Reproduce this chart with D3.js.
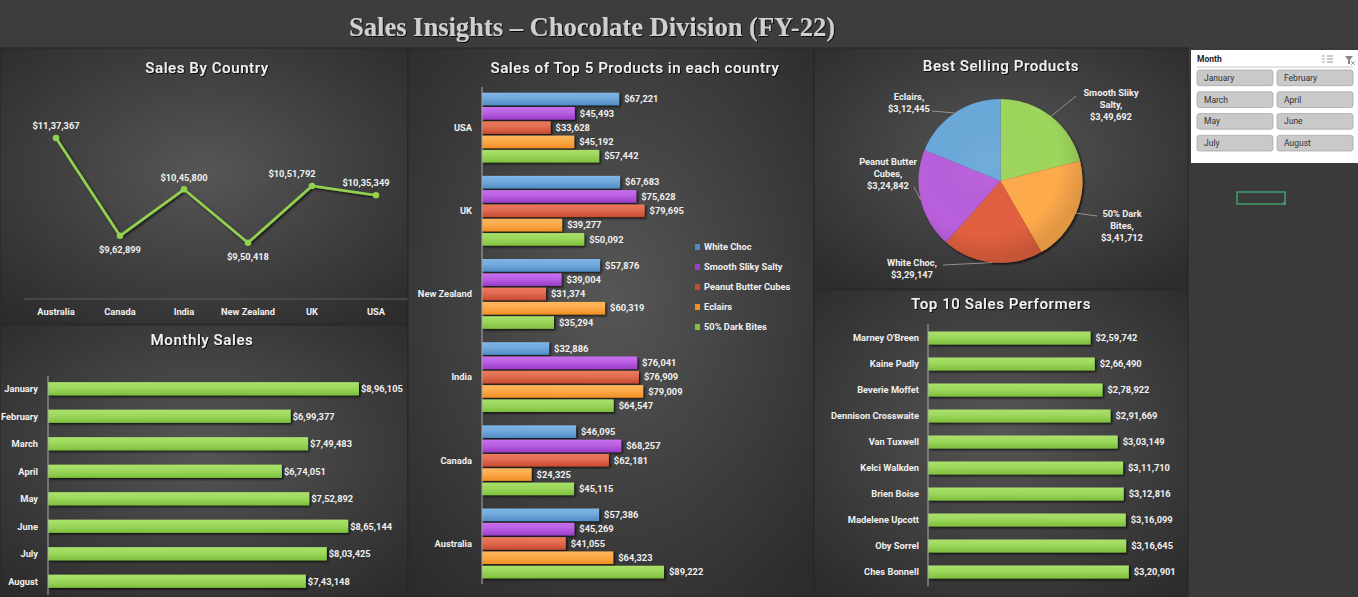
<!DOCTYPE html>
<html>
<head>
<meta charset="utf-8">
<script src="https://cdn.jsdelivr.net/npm/d3@7"></script>
<style>
  body { margin:0; background:#3d3d3d; }
  svg { display:block; }
  text { font-family: Roboto, "Open Sans", sans-serif; }
</style>
</head>
<body>
<div id="dash"></div>
<script>

// ---------------- data ----------------
var countries     = ["Australia","Canada","India","New Zealand","UK","USA"];
var countrySales  = [1137367, 962899, 1045800, 950418, 1051792, 1035349];

var months        = ["January","February","March","April","May","June","July","August"];
var monthSales    = [896105, 699377, 749483, 674051, 752892, 865144, 803425, 743148];

var top5Countries = ["USA","UK","New Zealand","India","Canada","Australia"];
var products      = ["White Choc","Smooth Sliky Salty","Peanut Butter Cubes","Eclairs","50% Dark Bites"];
var whiteChoc     = [67221, 67683, 57876, 32886, 46095, 57386];
var smoothSalty   = [45493, 75628, 39004, 76041, 68257, 45269];
var peanutCubes   = [33628, 79695, 31374, 76909, 62181, 41055];
var eclairs       = [45192, 39277, 60319, 79009, 24325, 64323];
var darkBites     = [57442, 50092, 35294, 64547, 45115, 89222];

var pieProducts   = ["Smooth Sliky Salty","50% Dark Bites","White Choc","Peanut Butter Cubes","Eclairs"];
var pieSales      = [349692, 341712, 329147, 324842, 312445];

var performers    = ["Marney O'Breen","Kaine Padly","Beverie Moffet","Dennison Crosswaite","Van Tuxwell",
                     "Kelci Walkden","Brien Boise","Madelene Upcott","Oby Sorrel","Ches Bonnell"];
var performerSales= [259742, 266490, 278922, 291669, 303149, 311710, 312816, 316099, 316645, 320901];

var slicerMonths  = ["January","February","March","April","May","June","July","August"];
// --------------------------------------


// Indian style grouping: $11,37,367
function inr(v){
  var s = String(Math.round(v));
  if (s.length <= 3) return "$" + s;
  var last = s.slice(-3), rest = s.slice(0,-3);
  rest = rest.replace(/\B(?=(\d{2})+(?!\d))/g, ",");
  return "$" + rest + "," + last;
}
function usd(v){ return "$" + d3.format(",")(v); }

var W = 1358, H = 597;
var svg = d3.select("#dash").append("svg")
  .attr("width", W).attr("height", H);

var defs = svg.append("defs");

// panel background gradient
var pg = defs.append("radialGradient").attr("id","panelBg")
  .attr("cx","50%").attr("cy","45%").attr("r","70%");
pg.append("stop").attr("offset","0%").attr("stop-color","#565656");
pg.append("stop").attr("offset","100%").attr("stop-color","#2c2c2c");

var shadow = defs.append("filter").attr("id","shadow")
  .attr("x","-10%").attr("y","-30%").attr("width","130%").attr("height","180%");
shadow.append("feDropShadow").attr("dx",1.5).attr("dy",1.5)
  .attr("stdDeviation",1).attr("flood-color","#000").attr("flood-opacity",0.75);

var txtShadow = defs.append("filter").attr("id","tshadow");
txtShadow.append("feDropShadow").attr("dx",1).attr("dy",1)
  .attr("stdDeviation",0.6).attr("flood-color","#000").attr("flood-opacity",0.8);

// bar gradients (light top, darker bottom)
function barGrad(id, top, bottom){
  var g = defs.append("linearGradient").attr("id",id)
    .attr("x1",0).attr("y1",0).attr("x2",0).attr("y2",1);
  g.append("stop").attr("offset","0%").attr("stop-color",top);
  g.append("stop").attr("offset","45%").attr("stop-color",d3.interpolateRgb(top,bottom)(0.3));
  g.append("stop").attr("offset","100%").attr("stop-color",bottom);
}
var barColors = {
  "White Choc":          ["#7fb6e6","#4f8cc6"],
  "Smooth Sliky Salty":  ["#c770ee","#9c3cc8"],
  "Peanut Butter Cubes": ["#ec7a5f","#c84a30"],
  "Eclairs":             ["#ffb65c","#f08f22"],
  "50% Dark Bites":      ["#a9e06a","#7ec03c"]
};
products.forEach(function(p,i){ barGrad("bar"+i, barColors[p][0], barColors[p][1]); });
barGrad("barGreen","#abe26c","#7dbf3b");

// ---------- page frame ----------
svg.append("rect").attr("width",W).attr("height",H).attr("fill","#3d3d3d");
svg.append("rect").attr("x",1188).attr("y",48).attr("width",170).attr("height",549).attr("fill","#3a3a3a");

svg.append("text")
  .attr("x",592).attr("y",36)
  .attr("text-anchor","middle")
  .attr("textLength",486).attr("lengthAdjust","spacingAndGlyphs")
  .style("font-family","'Liberation Serif', 'DejaVu Serif', serif")
  .style("font-weight","bold").style("font-size","28px")
  .attr("fill","#cfcfcf").attr("filter","url(#tshadow)")
  .text("Sales Insights \u2013 Chocolate Division (FY-22)");

var panels = [
  {x:0,   y:48,  w:408, h:276},
  {x:0,   y:325, w:408, h:272},
  {x:408, y:48,  w:406, h:549},
  {x:814, y:48,  w:374, h:241},
  {x:814, y:290, w:374, h:307}
];
svg.selectAll("rect.panel").data(panels).enter().append("rect")
  .attr("class","panel")
  .attr("x",function(d){return d.x;}).attr("y",function(d){return d.y;})
  .attr("width",function(d){return d.w;}).attr("height",function(d){return d.h;})
  .attr("fill","url(#panelBg)")
  .attr("stroke","#262626").attr("stroke-width",1);

function panelTitle(x, y, t){
  svg.append("text").attr("x",x).attr("y",y).attr("text-anchor","middle")
    .style("font-size","15px").style("font-weight","500").style("letter-spacing","0.6px")
    .attr("fill","#f2f2f2").attr("filter","url(#tshadow)")
    .text(t);
}
function label(g, x, y, t, anchor){
  return g.append("text").attr("x",x).attr("y",y)
    .attr("text-anchor",anchor||"start")
    .attr("dy","0.35em")
    .style("font-size","9.3px").style("font-weight","bold")
    .attr("fill","#f0f0f0")
    .text(t);
}

// ---------- Sales By Country (line) ----------
panelTitle(207, 73, "Sales By Country");
var g1 = svg.append("g");
var xC = d3.scalePoint().domain(countries).range([56,376]);
var yC = d3.scaleLinear().domain([850000,1150000]).range([299,131]);

g1.append("line").attr("x1",24).attr("x2",408).attr("y1",299).attr("y2",299)
  .attr("stroke","#5c5c5c").attr("stroke-width",1);

var lineGen = d3.line()
  .x(function(d,i){return xC(countries[i]);})
  .y(function(d){return yC(d);});
g1.append("path").datum(countrySales).attr("d",lineGen)
  .attr("fill","none").attr("stroke","#92d050").attr("stroke-width",2.6)
  .attr("filter","url(#shadow)");
g1.selectAll("circle").data(countrySales).enter().append("circle")
  .attr("cx",function(d,i){return xC(countries[i]);})
  .attr("cy",function(d){return yC(d);})
  .attr("r",3.3).attr("fill","#92d050");

var linePlace = ["above","below","above","below","aboveLeft","aboveRight"];
countrySales.forEach(function(v,i){
  var x = xC(countries[i]), y = yC(v), p = linePlace[i];
  var dx = p=="aboveLeft" ? -20 : p=="aboveRight" ? -10 : 0;
  var dy = p=="below" ? 14 : -12;
  label(g1, x+dx, y+dy, inr(v), "middle");
});
countries.forEach(function(c){
  label(g1, xC(c), 312, c, "middle");
});

// ---------- Monthly Sales ----------
panelTitle(202, 345, "Monthly Sales");
var g2 = svg.append("g");
var yM = d3.scaleBand().domain(months).range([375,595]).paddingInner(0.52).paddingOuter(0.26);
var xM = d3.scaleLinear().domain([0,1000000]).range([48,395]);

g2.selectAll("rect").data(monthSales).enter().append("rect")
  .attr("x",xM(0))
  .attr("y",function(d,i){return yM(months[i]);})
  .attr("width",function(d){return xM(d)-xM(0);})
  .attr("height",yM.bandwidth())
  .attr("fill","url(#barGreen)").attr("filter","url(#shadow)");
g2.append("line").attr("x1",48).attr("x2",48).attr("y1",376).attr("y2",595)
  .attr("stroke","#aaaaaa");
monthSales.forEach(function(v,i){
  var cy = yM(months[i]) + yM.bandwidth()/2;
  label(g2, xM(v)+2, cy, inr(v));
  label(g2, 38, cy, months[i], "end");
});

// ---------- Top 5 products per country ----------
panelTitle(635, 73, "Sales of Top 5 Products in each country");
var g3 = svg.append("g");
var series = [whiteChoc, smoothSalty, peanutCubes, eclairs, darkBites];
var yG = d3.scaleBand().domain(top5Countries).range([86,585]).paddingInner(0.14).paddingOuter(0.07);
var yP = d3.scaleBand().domain(products).range([0,yG.bandwidth()]).paddingInner(0.12).paddingOuter(0.06);
var xP = d3.scaleLinear().domain([0,100000]).range([482,686]);

top5Countries.forEach(function(c,ci){
  var grp = g3.append("g").attr("transform","translate(0,"+yG(c)+")");
  products.forEach(function(p,pi){
    var v = series[pi][ci];
    grp.append("rect")
      .attr("x",xP(0)).attr("y",yP(p))
      .attr("width",xP(v)-xP(0)).attr("height",yP.bandwidth())
      .attr("fill","url(#bar"+pi+")").attr("filter","url(#shadow)");
    label(grp, xP(v)+5, yP(p)+yP.bandwidth()/2, usd(v));
  });
  label(g3, 472, yG(c)+yG.bandwidth()/2, c, "end");
});
g3.append("line").attr("x1",482).attr("x2",482).attr("y1",87).attr("y2",584)
  .attr("stroke","#aaaaaa");

var legend = g3.selectAll("g.leg").data(products).enter().append("g")
  .attr("class","leg")
  .attr("transform",function(d,i){return "translate(695,"+(247+i*20)+")";});
legend.append("rect").attr("x",0).attr("y",-3).attr("width",5).attr("height",6)
  .attr("fill",function(d){return barColors[d][1];});
legend.append("text").attr("x",9).attr("y",0).attr("dy","0.35em")
  .style("font-size","9.3px").style("font-weight","bold").attr("fill","#f0f0f0")
  .text(function(d){return d;});

// ---------- Best Selling Products (pie) ----------
panelTitle(1001, 71, "Best Selling Products");
var pieColors = {
  "Smooth Sliky Salty":  "#9dd65c",
  "50% Dark Bites":      "#ffab4c",
  "White Choc":          "#e1603f",
  "Peanut Butter Cubes": "#b95fdc",
  "Eclairs":             "#6aa9da"
};
var pcx = 1000.5, pcy = 181, pr = 82;
// subtle shading, in the group's local coordinates
var shade = defs.append("radialGradient").attr("id","pieShade")
  .attr("gradientUnits","userSpaceOnUse")
  .attr("cx",-15).attr("cy",-20).attr("r",pr*1.2);
shade.append("stop").attr("offset","0%").attr("stop-color","#fff").attr("stop-opacity",0.05);
shade.append("stop").attr("offset","75%").attr("stop-color","#000").attr("stop-opacity",0);
shade.append("stop").attr("offset","100%").attr("stop-color","#000").attr("stop-opacity",0.12);

var pie = d3.pie().sort(null).value(function(d){return d;});
var arcs = pie(pieSales);
var arc = d3.arc().innerRadius(0).outerRadius(pr);
var g4 = svg.append("g").attr("transform","translate("+pcx+","+pcy+")")
  .attr("filter","url(#shadow)");
g4.selectAll("path.slice").data(arcs).enter().append("path")
  .attr("class","slice").attr("d",arc)
  .attr("fill",function(d,i){return pieColors[pieProducts[i]];});
g4.append("circle").attr("r",pr).attr("fill","url(#pieShade)");

// label anchor points (page coords): centre x, first line y, leader end
var pieLabelPos = [
  {x:1111, y:93,  lines:["Smooth Sliky","Salty,"], lx:1076, ly:96},
  {x:1122, y:214, lines:["50% Dark","Bites,"],     lx:1097, ly:216},
  {x:912,  y:263, lines:["White Choc,"],           lx:943,  ly:265},
  {x:888,  y:162, lines:["Peanut Butter","Cubes,"],lx:914,  ly:187},
  {x:909,  y:97,  lines:["Eclairs,"],              lx:932,  ly:111}
];
arcs.forEach(function(a,i){
  var pos = pieLabelPos[i];
  var mid = (a.startAngle + a.endAngle)/2;
  var ex = pcx + pr*Math.sin(mid), ey = pcy - pr*Math.cos(mid);
  svg.append("line").attr("x1",pos.lx).attr("y1",pos.ly).attr("x2",ex).attr("y2",ey)
    .attr("stroke","#a6a6a6").attr("stroke-width",0.8);
  var t = pos.lines.concat([inr(pieSales[i])]);
  t.forEach(function(s,k){
    label(svg, pos.x, pos.y + k*11.7, s, "middle");
  });
});

// ---------- Top 10 Sales Performers ----------
panelTitle(1001, 309, "Top 10 Sales Performers");
var g5 = svg.append("g");
var yT = d3.scaleBand().domain(performers).range([325,585]).paddingInner(0.5).paddingOuter(0.25);
var xT = d3.scaleLinear().domain([0,350000]).range([928,1147]);
g5.selectAll("rect").data(performerSales).enter().append("rect")
  .attr("x",xT(0))
  .attr("y",function(d,i){return yT(performers[i]);})
  .attr("width",function(d){return xT(d)-xT(0);})
  .attr("height",yT.bandwidth())
  .attr("fill","url(#barGreen)").attr("filter","url(#shadow)");
g5.append("line").attr("x1",928).attr("x2",928).attr("y1",324).attr("y2",586)
  .attr("stroke","#aaaaaa");
performerSales.forEach(function(v,i){
  var cy = yT(performers[i]) + yT.bandwidth()/2;
  label(g5, xT(v)+5, cy, inr(v));
  label(g5, 919, cy, performers[i], "end");
});

// ---------- Month slicer ----------
var sl = svg.append("g").attr("transform","translate(1191,50)");
sl.append("rect").attr("width",167).attr("height",113).attr("fill","#ffffff");
sl.append("text").attr("x",6).attr("y",12)
  .style("font-size","8.5px").style("font-weight","bold").attr("fill","#222").text("Month");
sl.append("line").attr("x1",6).attr("x2",162).attr("y1",17).attr("y2",17)
  .attr("stroke","#c8c8c8");
// multi-select icon
[6,9,12].forEach(function(yy){
  sl.append("line").attr("x1",136).attr("x2",142).attr("y1",yy).attr("y2",yy)
    .attr("stroke","#777").attr("stroke-width",0.8);
  sl.append("line").attr("x1",131).attr("x2",134).attr("y1",yy).attr("y2",yy)
    .attr("stroke","#999").attr("stroke-width",0.8);
});
// clear filter icon
sl.append("path").attr("d","M154,6 L162,6 L159,10 L159,14 L157,14 L157,10 Z")
  .attr("fill","#888");
sl.append("path").attr("d","M160,11 L164,15 M164,11 L160,15")
  .attr("stroke","#888").attr("stroke-width",0.8);

var cols = d3.scaleBand().domain([0,1]).range([6,162]).paddingInner(0.05);
var rows = d3.scaleBand().domain([0,1,2,3]).range([20,101]).paddingInner(0.28);
slicerMonths.forEach(function(m,i){
  var bx = cols(i%2), by = rows(Math.floor(i/2));
  sl.append("rect").attr("x",bx).attr("y",by)
    .attr("width",cols.bandwidth()).attr("height",rows.bandwidth())
    .attr("rx",2.5).attr("fill","#c9c9c9").attr("stroke","#a8a8a8").attr("stroke-width",0.8);
  sl.append("text").attr("x",bx+7).attr("y",by+rows.bandwidth()/2).attr("dy","0.35em")
    .style("font-size","8.5px").attr("fill","#333").text(m);
});

// Excel cell cursor
svg.append("rect").attr("x",1237).attr("y",192).attr("width",48).attr("height",12)
  .attr("fill","none").attr("stroke","#3f9e6c").attr("stroke-width",1.5);
svg.append("rect").attr("x",1283).attr("y",202).attr("width",3).attr("height",3)
  .attr("fill","#3f9e6c");

</script>
</body>
</html>
